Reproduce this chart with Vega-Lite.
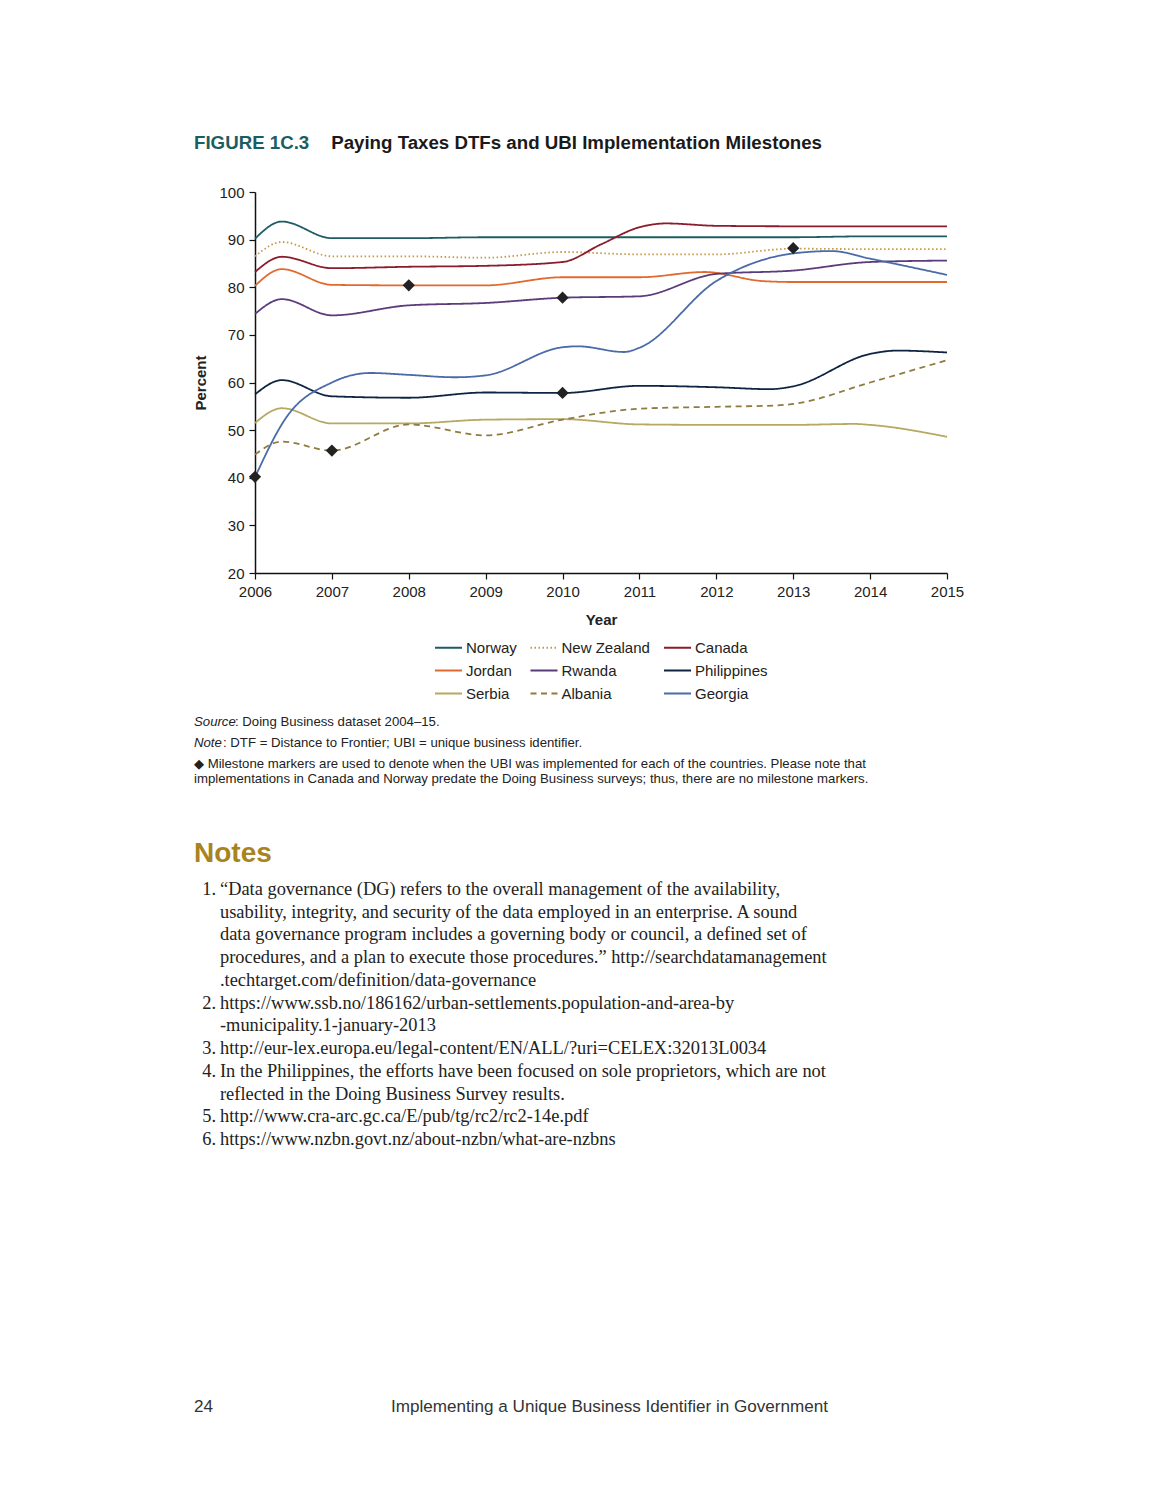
{
  "$schema": "https://vega.github.io/schema/vega-lite/v6.json",
  "background": "white",
  "padding": {"left": 193, "top": 101, "right": 20, "bottom": 20},
  "autosize": {"type": "pad"},
  "spacing": 0,
  "bounds": "full",
  "align": "each",
  "resolve": {"legend": {"color": "independent", "strokeDash": "independent"}},
  "config": {
    "view": {"stroke": null},
    "font": "Liberation Sans",
    "legend": {"layout": {"bottom": {"anchor": "middle"}}}
  },
  "datasets": {
    "lines": [
      {"country": "Norway", "year": 2006, "value": 90.2},
      {"country": "Norway", "year": 2006.35, "value": 93.8},
      {"country": "Norway", "year": 2007, "value": 90.3},
      {"country": "Norway", "year": 2008, "value": 90.3},
      {"country": "Norway", "year": 2009, "value": 90.5},
      {"country": "Norway", "year": 2010, "value": 90.5},
      {"country": "Norway", "year": 2011, "value": 90.5},
      {"country": "Norway", "year": 2012, "value": 90.5},
      {"country": "Norway", "year": 2013, "value": 90.5},
      {"country": "Norway", "year": 2014, "value": 90.7},
      {"country": "Norway", "year": 2015, "value": 90.7},
      {"country": "New Zealand", "year": 2006, "value": 86.5},
      {"country": "New Zealand", "year": 2006.35, "value": 89.5},
      {"country": "New Zealand", "year": 2007, "value": 86.5},
      {"country": "New Zealand", "year": 2008, "value": 86.5},
      {"country": "New Zealand", "year": 2009, "value": 86.2},
      {"country": "New Zealand", "year": 2010, "value": 87.4},
      {"country": "New Zealand", "year": 2011, "value": 86.9},
      {"country": "New Zealand", "year": 2012, "value": 86.9},
      {"country": "New Zealand", "year": 2013, "value": 88.1},
      {"country": "New Zealand", "year": 2014, "value": 88.0},
      {"country": "New Zealand", "year": 2015, "value": 88.0},
      {"country": "Canada", "year": 2006, "value": 83.2},
      {"country": "Canada", "year": 2006.35, "value": 86.4},
      {"country": "Canada", "year": 2007, "value": 84.0},
      {"country": "Canada", "year": 2008, "value": 84.3},
      {"country": "Canada", "year": 2009, "value": 84.5},
      {"country": "Canada", "year": 2010, "value": 85.3},
      {"country": "Canada", "year": 2010.5, "value": 89.0},
      {"country": "Canada", "year": 2011, "value": 92.6},
      {"country": "Canada", "year": 2011.35, "value": 93.4},
      {"country": "Canada", "year": 2012, "value": 92.9},
      {"country": "Canada", "year": 2013, "value": 92.8},
      {"country": "Canada", "year": 2014, "value": 92.8},
      {"country": "Canada", "year": 2015, "value": 92.8},
      {"country": "Jordan", "year": 2006, "value": 80.3},
      {"country": "Jordan", "year": 2006.35, "value": 83.8},
      {"country": "Jordan", "year": 2007, "value": 80.5},
      {"country": "Jordan", "year": 2008, "value": 80.4},
      {"country": "Jordan", "year": 2009, "value": 80.4},
      {"country": "Jordan", "year": 2010, "value": 82.1},
      {"country": "Jordan", "year": 2011, "value": 82.1},
      {"country": "Jordan", "year": 2011.85, "value": 83.2},
      {"country": "Jordan", "year": 2012.6, "value": 81.3},
      {"country": "Jordan", "year": 2013, "value": 81.1},
      {"country": "Jordan", "year": 2014, "value": 81.1},
      {"country": "Jordan", "year": 2015, "value": 81.1},
      {"country": "Rwanda", "year": 2006, "value": 74.4},
      {"country": "Rwanda", "year": 2006.35, "value": 77.5},
      {"country": "Rwanda", "year": 2007, "value": 74.1},
      {"country": "Rwanda", "year": 2008, "value": 76.2},
      {"country": "Rwanda", "year": 2009, "value": 76.7},
      {"country": "Rwanda", "year": 2010, "value": 77.8},
      {"country": "Rwanda", "year": 2011, "value": 78.1},
      {"country": "Rwanda", "year": 2012, "value": 82.8},
      {"country": "Rwanda", "year": 2013, "value": 83.5},
      {"country": "Rwanda", "year": 2014, "value": 85.3},
      {"country": "Rwanda", "year": 2015, "value": 85.6},
      {"country": "Philippines", "year": 2006, "value": 57.5},
      {"country": "Philippines", "year": 2006.35, "value": 60.5},
      {"country": "Philippines", "year": 2007, "value": 57.1},
      {"country": "Philippines", "year": 2008, "value": 56.8},
      {"country": "Philippines", "year": 2009, "value": 57.9},
      {"country": "Philippines", "year": 2010, "value": 57.8},
      {"country": "Philippines", "year": 2011, "value": 59.3},
      {"country": "Philippines", "year": 2012, "value": 59.0},
      {"country": "Philippines", "year": 2012.7, "value": 58.6},
      {"country": "Philippines", "year": 2013, "value": 59.2},
      {"country": "Philippines", "year": 2014, "value": 66.0},
      {"country": "Philippines", "year": 2014.35, "value": 66.7},
      {"country": "Philippines", "year": 2015, "value": 66.3},
      {"country": "Serbia", "year": 2006, "value": 51.5},
      {"country": "Serbia", "year": 2006.35, "value": 54.6},
      {"country": "Serbia", "year": 2007, "value": 51.4},
      {"country": "Serbia", "year": 2008, "value": 51.4},
      {"country": "Serbia", "year": 2009, "value": 52.2},
      {"country": "Serbia", "year": 2010, "value": 52.3},
      {"country": "Serbia", "year": 2011, "value": 51.2},
      {"country": "Serbia", "year": 2012, "value": 51.1},
      {"country": "Serbia", "year": 2013, "value": 51.1},
      {"country": "Serbia", "year": 2013.8, "value": 51.3},
      {"country": "Serbia", "year": 2014, "value": 51.1},
      {"country": "Serbia", "year": 2015, "value": 48.6},
      {"country": "Albania", "year": 2006, "value": 44.9},
      {"country": "Albania", "year": 2006.35, "value": 47.6},
      {"country": "Albania", "year": 2007, "value": 45.7},
      {"country": "Albania", "year": 2008, "value": 51.2},
      {"country": "Albania", "year": 2009, "value": 48.9},
      {"country": "Albania", "year": 2010, "value": 52.2},
      {"country": "Albania", "year": 2011, "value": 54.5},
      {"country": "Albania", "year": 2012, "value": 54.9},
      {"country": "Albania", "year": 2012.8, "value": 55.2},
      {"country": "Albania", "year": 2013, "value": 55.5},
      {"country": "Albania", "year": 2014, "value": 60.0},
      {"country": "Albania", "year": 2015, "value": 64.7},
      {"country": "Georgia", "year": 2006, "value": 40.1},
      {"country": "Georgia", "year": 2006.4, "value": 52.5},
      {"country": "Georgia", "year": 2007, "value": 60.0},
      {"country": "Georgia", "year": 2007.5, "value": 62.0},
      {"country": "Georgia", "year": 2008, "value": 61.6},
      {"country": "Georgia", "year": 2008.6, "value": 61.1},
      {"country": "Georgia", "year": 2009, "value": 61.5},
      {"country": "Georgia", "year": 2010, "value": 67.4},
      {"country": "Georgia", "year": 2010.2, "value": 67.6},
      {"country": "Georgia", "year": 2010.8, "value": 66.4},
      {"country": "Georgia", "year": 2011, "value": 67.3},
      {"country": "Georgia", "year": 2012, "value": 81.3},
      {"country": "Georgia", "year": 2013, "value": 87.1},
      {"country": "Georgia", "year": 2013.5, "value": 87.6},
      {"country": "Georgia", "year": 2014, "value": 86.0},
      {"country": "Georgia", "year": 2015, "value": 82.6}
    ],
    "milestones": [
      {"country": "Georgia", "year": 2006, "value": 40.2},
      {"country": "Albania", "year": 2007, "value": 45.7},
      {"country": "Jordan", "year": 2008, "value": 80.4},
      {"country": "Rwanda", "year": 2010, "value": 77.8},
      {"country": "Philippines", "year": 2010, "value": 57.8},
      {"country": "New Zealand", "year": 2013, "value": 88.2}
    ],
    "title": [
      {"n": 0, "fig": "FIGURE 1C.3", "name": "Paying Taxes DTFs and UBI Implementation Milestones"}
    ],
    "footA": [
      {"n": 0, "lead": "Source", "body": ": Doing Business dataset 2004–15."},
      {"n": 1, "lead": "Note", "body": ": DTF = Distance to Frontier; UBI = unique business identifier."}
    ],
    "footB": [
      {"n": 0, "text": "◆ Milestone markers are used to denote when the UBI was implemented for each of the countries. Please note that"},
      {"n": 1, "text": "implementations in Canada and Norway predate the Doing Business surveys; thus, there are no milestone markers."}
    ],
    "heading": [
      {"n": 0, "text": "Notes"}
    ],
    "notes": [
      {"n": 0, "num": "1.", "text": "“Data governance (DG) refers to the overall management of the availability,"},
      {"n": 1, "num": "", "text": "usability, integrity, and security of the data employed in an enterprise. A sound"},
      {"n": 2, "num": "", "text": "data governance program includes a governing body or council, a defined set of"},
      {"n": 3, "num": "", "text": "procedures, and a plan to execute those procedures.” http://searchdatamanagement"},
      {"n": 4, "num": "", "text": ".techtarget.com/definition/data-governance"},
      {"n": 5, "num": "2.", "text": "https://www.ssb.no/186162/urban-settlements.population-and-area-by"},
      {"n": 6, "num": "", "text": "-municipality.1-january-2013"},
      {"n": 7, "num": "3.", "text": "http://eur-lex.europa.eu/legal-content/EN/ALL/?uri=CELEX:32013L0034"},
      {"n": 8, "num": "4.", "text": "In the Philippines, the efforts have been focused on sole proprietors, which are not"},
      {"n": 9, "num": "", "text": "reflected in the Doing Business Survey results."},
      {"n": 10, "num": "5.", "text": "http://www.cra-arc.gc.ca/E/pub/tg/rc2/rc2-14e.pdf"},
      {"n": 11, "num": "6.", "text": "https://www.nzbn.govt.nz/about-nzbn/what-are-nzbns"}
    ],
    "footer": [
      {"n": 0, "page": "24", "book": "Implementing a Unique Business Identifier in Government"}
    ]
  },
  "vconcat": [
    {
      "width": 628,
      "height": 84,
      "data": {"name": "title"},
      "encoding": {"y": {"field": "n", "type": "ordinal", "axis": null, "scale": {"type": "band", "paddingInner": 0, "paddingOuter": 0, "align": 1, "round": false}}},
      "layer": [
        {"mark": {"type": "text", "align": "left", "baseline": "middle", "font": "Liberation Sans", "fontSize": 18.7, "fontWeight": "bold", "color": "#1a5e63"},
         "encoding": {"x": {"value": 0}, "text": {"field": "fig"}}},
        {"mark": {"type": "text", "align": "right", "baseline": "middle", "font": "Liberation Sans", "fontSize": 18.7, "fontWeight": "bold", "color": "#1a1a1a"},
         "encoding": {"x": {"value": "width"}, "text": {"field": "name"}}}
      ]
    },
    {
      "spacing": -2,
      "resolve": {"legend": {"color": "independent", "strokeDash": "independent"}},
      "hconcat": [
        {"width": 1, "height": 1, "data": {"values": []}, "mark": {"type": "point"}},
        {
          "width": 692,
          "height": 381,
          "layer": [
            {
              "data": {"name": "lines"},
              "mark": {"type": "line", "interpolate": "monotone", "strokeWidth": 1.8},
              "encoding": {
                "x": {"field": "year", "type": "quantitative",
                  "scale": {"domain": [2006, 2015], "nice": false, "zero": false},
                  "axis": {"values": [2006, 2007, 2008, 2009, 2010, 2011, 2012, 2013, 2014, 2015], "format": "d", "labelFlush": false, "grid": false,
                    "tickSize": 6, "labelPadding": 5, "domainColor": "#111", "domainWidth": 1.5, "tickColor": "#111", "tickWidth": 1.2,
                    "labelFont": "Liberation Sans", "labelFontSize": 15, "labelColor": "#222",
                    "title": "Year", "titleFont": "Liberation Sans", "titleFontSize": 15, "titleFontWeight": "bold", "titleColor": "#222", "titlePadding": 13}},
                "y": {"field": "value", "type": "quantitative",
                  "scale": {"domain": [20, 100], "nice": false, "zero": false},
                  "axis": {"values": [20, 30, 40, 50, 60, 70, 80, 90, 100], "labelFlush": false, "grid": false,
                    "tickSize": 6, "labelPadding": 5, "domainColor": "#111", "domainWidth": 1.5, "tickColor": "#111", "tickWidth": 1.2,
                    "labelFont": "Liberation Sans", "labelFontSize": 15, "labelColor": "#222",
                    "title": "Percent", "titleFont": "Liberation Sans", "titleFontSize": 15, "titleFontWeight": "bold", "titleColor": "#222", "titlePadding": 10}},
                "color": {"field": "country", "type": "nominal",
                  "scale": {"domain": ["Norway", "New Zealand", "Canada", "Jordan", "Rwanda", "Philippines", "Serbia", "Albania", "Georgia"],
                    "range": ["#1d5c63", "#c9973e", "#8b1c2c", "#e2692d", "#5b3b7a", "#0e2442", "#b7a862", "#8f7b3f", "#4a6aa8"]},
                  "legend": {"orient": "bottom", "columns": 3, "title": null, "symbolType": "stroke", "symbolStrokeWidth": 2, "symbolSize": 729,
                    "labelFont": "Liberation Sans", "labelFontSize": 15, "labelColor": "#222", "columnPadding": 9.5, "rowPadding": -4, "offset": 6, "labelOffset": 3, "padding": 0}},
                "strokeDash": {"field": "country", "type": "nominal",
                  "scale": {"domain": ["Norway", "New Zealand", "Canada", "Jordan", "Rwanda", "Philippines", "Serbia", "Albania", "Georgia"],
                    "range": [[1, 0], [1.5, 2.5], [1, 0], [1, 0], [1, 0], [1, 0], [1, 0], [6, 4.5], [1, 0]]},
                  "legend": {"orient": "bottom", "columns": 3, "title": null, "symbolType": "stroke", "symbolStrokeWidth": 2, "symbolSize": 729,
                    "labelFont": "Liberation Sans", "labelFontSize": 15, "labelColor": "#222", "columnPadding": 9.5, "rowPadding": -4, "offset": 6, "labelOffset": 3, "padding": 0}}
              }
            },
            {
              "data": {"name": "milestones"},
              "mark": {"type": "point", "shape": "diamond", "filled": true, "color": "#222", "opacity": 1, "size": 150},
              "encoding": {
                "x": {"field": "year", "type": "quantitative"},
                "y": {"field": "value", "type": "quantitative"}
              }
            }
          ]
        }
      ]
    },
    {
      "width": 700,
      "height": 51.5,
      "data": {"name": "footA"},
      "encoding": {"y": {"field": "n", "type": "ordinal", "axis": null, "scale": {"type": "band", "paddingInner": 0, "paddingOuter": 0.226, "align": 1, "round": false}}},
      "layer": [
        {"mark": {"type": "text", "align": "left", "baseline": "middle", "font": "Liberation Sans", "fontSize": 13.2, "fontStyle": "italic", "color": "#222"},
         "encoding": {"x": {"value": 0}, "text": {"field": "lead"}}},
        {"transform": [{"filter": "datum.n == 0"}],
         "mark": {"type": "text", "align": "left", "baseline": "middle", "font": "Liberation Sans", "fontSize": 13.2, "color": "#222", "dx": 41},
         "encoding": {"x": {"value": 0}, "text": {"field": "body"}}},
        {"transform": [{"filter": "datum.n == 1"}],
         "mark": {"type": "text", "align": "left", "baseline": "middle", "font": "Liberation Sans", "fontSize": 13.2, "color": "#222", "dx": 29},
         "encoding": {"x": {"value": 0}, "text": {"field": "body"}}}
      ]
    },
    {
      "width": 700,
      "height": 32,
      "data": {"name": "footB"},
      "mark": {"type": "text", "align": "left", "baseline": "middle", "font": "Liberation Sans", "fontSize": 13.2, "color": "#222"},
      "encoding": {
        "y": {"field": "n", "type": "ordinal", "axis": null, "scale": {"type": "band", "paddingInner": 0, "paddingOuter": 0.0667, "align": 1, "round": false}},
        "x": {"value": 0},
        "text": {"field": "text"}
      }
    },
    {
      "width": 100,
      "height": 81.5,
      "data": {"name": "heading"},
      "mark": {"type": "text", "align": "left", "baseline": "middle", "font": "Liberation Sans", "fontSize": 28, "fontWeight": "bold", "color": "#a8841f"},
      "encoding": {
        "y": {"field": "n", "type": "ordinal", "axis": null, "scale": {"type": "band", "paddingInner": 0, "paddingOuter": 1.198, "align": 1, "round": false}},
        "x": {"value": 0},
        "text": {"field": "text"}
      }
    },
    {
      "spacing": 4,
      "hconcat": [
        {
          "width": 22,
          "height": 282.4,
          "data": {"name": "notes"},
          "mark": {"type": "text", "align": "right", "baseline": "middle", "font": "Liberation Serif", "fontSize": 18.4, "color": "#222"},
          "encoding": {
            "y": {"field": "n", "type": "ordinal", "axis": null, "scale": {"type": "band", "paddingInner": 0, "paddingOuter": 0.212, "align": 1, "round": false}},
            "x": {"value": "width"},
            "text": {"field": "num"}
          }
        },
        {
          "width": 610,
          "height": 282.4,
          "data": {"name": "notes"},
          "mark": {"type": "text", "align": "left", "baseline": "middle", "font": "Liberation Serif", "fontSize": 18.4, "color": "#222"},
          "encoding": {
            "y": {"field": "n", "type": "ordinal", "axis": null, "scale": {"type": "band", "paddingInner": 0, "paddingOuter": 0.212, "align": 1, "round": false}},
            "x": {"value": 0},
            "text": {"field": "text"}
          }
        }
      ]
    },
    {
      "width": 634,
      "height": 307.6,
      "data": {"name": "footer"},
      "encoding": {"y": {"field": "n", "type": "ordinal", "axis": null, "scale": {"type": "band", "paddingInner": 0, "paddingOuter": 7.19, "align": 1, "round": false}}},
      "layer": [
        {"mark": {"type": "text", "align": "left", "baseline": "middle", "font": "Liberation Sans", "fontSize": 17.1, "color": "#333"},
         "encoding": {"x": {"value": 0}, "text": {"field": "page"}}},
        {"mark": {"type": "text", "align": "right", "baseline": "middle", "font": "Liberation Sans", "fontSize": 17.1, "color": "#333"},
         "encoding": {"x": {"value": "width"}, "text": {"field": "book"}}}
      ]
    }
  ]
}
